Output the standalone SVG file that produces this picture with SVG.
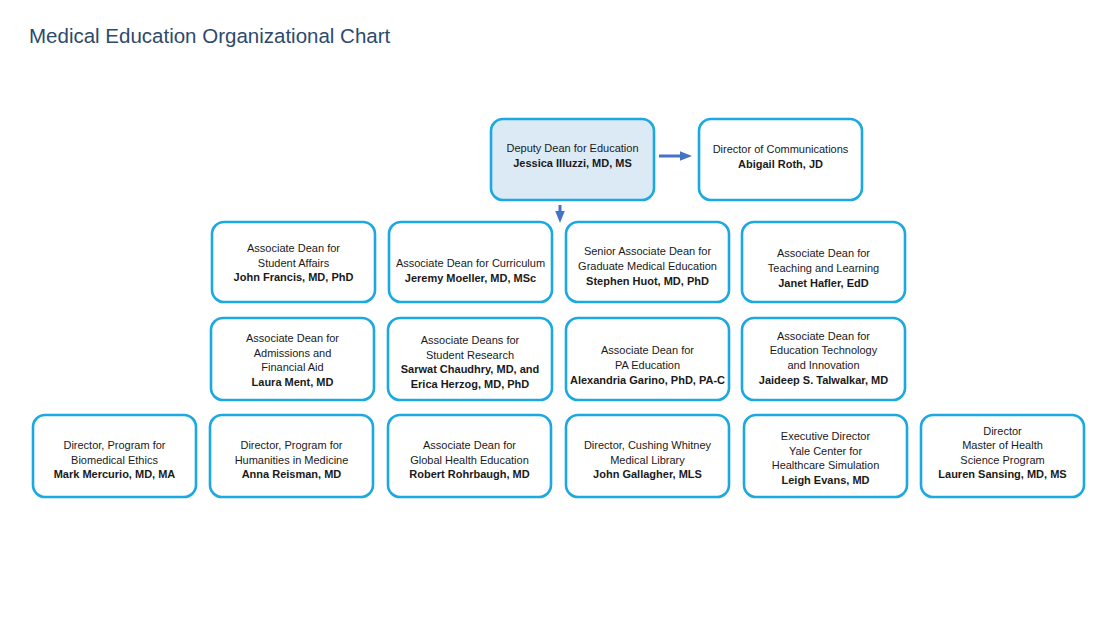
<svg xmlns="http://www.w3.org/2000/svg" width="1120" height="630" viewBox="0 0 1120 630">
<defs>
<style>
.box{fill:#ffffff;stroke:#1ca9e1;stroke-width:2.6}
.top{fill:#dceaf6}
text{font-family:"Liberation Sans",Arial,sans-serif;font-size:11px;fill:#1a1a1a;text-anchor:middle}
.b{font-weight:bold}
.title{font-size:20.5px;fill:#2d4a6d;text-anchor:start}
.conn{stroke:#4472c4;stroke-width:3;fill:none}
</style>
<marker id="ah" markerWidth="4" markerHeight="3.2" refX="2" refY="1.6" orient="auto" markerUnits="strokeWidth">
<path d="M0,0 L4,1.6 L0,3.2 Z" fill="#4472c4"/>
</marker>
</defs>
<rect width="1120" height="630" fill="#ffffff"/>
<text class="title" x="29" y="43">Medical Education Organizational Chart</text>

<g id="connectors">
<line class="conn" x1="659" y1="156" x2="686" y2="156" marker-end="url(#ah)"/>
<line class="conn" x1="560" y1="205" x2="560" y2="217" marker-end="url(#ah)"/>
</g>

<g id="deputy">
<rect class="box top" x="491" y="119" width="163" height="81" rx="12"/>
<text x="572.5" y="152">Deputy Dean for Education</text>
<text class="b" x="572.5" y="167">Jessica Illuzzi, MD, MS</text>
</g>
<g id="communications">
<rect class="box" x="699" y="119" width="163" height="81" rx="12"/>
<text x="780.5" y="153">Director of Communications</text>
<text class="b" x="780.5" y="168">Abigail Roth, JD</text>
</g>

<g id="student-affairs">
<rect class="box" x="212" y="222" width="163" height="80" rx="12"/>
<text x="293.5" y="252">Associate Dean for</text>
<text x="293.5" y="266.5">Student Affairs</text>
<text class="b" x="293.5" y="281">John Francis, MD, PhD</text>
</g>
<g id="curriculum">
<rect class="box" x="389" y="222" width="163" height="80" rx="12"/>
<text x="470.5" y="267">Associate Dean for Curriculum</text>
<text class="b" x="470.5" y="282">Jeremy Moeller, MD, MSc</text>
</g>
<g id="gme">
<rect class="box" x="566" y="222" width="163" height="80" rx="12"/>
<text x="647.5" y="255">Senior Associate Dean for</text>
<text x="647.5" y="270">Graduate Medical Education</text>
<text class="b" x="647.5" y="284.5">Stephen Huot, MD, PhD</text>
</g>
<g id="teaching">
<rect class="box" x="742" y="222" width="163" height="80" rx="12"/>
<text x="823.5" y="257">Associate Dean for</text>
<text x="823.5" y="272">Teaching and Learning</text>
<text class="b" x="823.5" y="287">Janet Hafler, EdD</text>
</g>

<g id="admissions">
<rect class="box" x="211" y="318" width="163" height="82" rx="12"/>
<text x="292.5" y="342">Associate Dean for</text>
<text x="292.5" y="356.5">Admissions and</text>
<text x="292.5" y="371">Financial Aid</text>
<text class="b" x="292.5" y="386">Laura Ment, MD</text>
</g>
<g id="research">
<rect class="box" x="388" y="318" width="164" height="82" rx="12"/>
<text x="470" y="344">Associate Deans for</text>
<text x="470" y="358.5">Student Research</text>
<text class="b" x="470" y="373">Sarwat Chaudhry, MD, and</text>
<text class="b" x="470" y="387.5">Erica Herzog, MD, PhD</text>
</g>
<g id="pa">
<rect class="box" x="566" y="318" width="163" height="82" rx="12"/>
<text x="647.5" y="354">Associate Dean for</text>
<text x="647.5" y="368.5">PA Education</text>
<text class="b" x="647.5" y="383.5">Alexandria Garino, PhD, PA-C</text>
</g>
<g id="edtech">
<rect class="box" x="742" y="318" width="163" height="82" rx="12"/>
<text x="823.5" y="340">Associate Dean for</text>
<text x="823.5" y="354">Education Technology</text>
<text x="823.5" y="369">and Innovation</text>
<text class="b" x="823.5" y="383.5">Jaideep S. Talwalkar, MD</text>
</g>

<g id="ethics">
<rect class="box" x="33" y="415" width="163" height="82" rx="12"/>
<text x="114.5" y="449">Director, Program for</text>
<text x="114.5" y="463.5">Biomedical Ethics</text>
<text class="b" x="114.5" y="478">Mark Mercurio, MD, MA</text>
</g>
<g id="humanities">
<rect class="box" x="210" y="415" width="163" height="82" rx="12"/>
<text x="291.5" y="449">Director, Program for</text>
<text x="291.5" y="463.5">Humanities in Medicine</text>
<text class="b" x="291.5" y="478">Anna Reisman, MD</text>
</g>
<g id="global-health">
<rect class="box" x="388" y="415" width="163" height="82" rx="12"/>
<text x="469.5" y="449">Associate Dean for</text>
<text x="469.5" y="464">Global Health Education</text>
<text class="b" x="469.5" y="478">Robert Rohrbaugh, MD</text>
</g>
<g id="library">
<rect class="box" x="566" y="415" width="163" height="82" rx="12"/>
<text x="647.5" y="449">Director, Cushing Whitney</text>
<text x="647.5" y="464">Medical Library</text>
<text class="b" x="647.5" y="478">John Gallagher, MLS</text>
</g>
<g id="simulation">
<rect class="box" x="744" y="415" width="163" height="82" rx="12"/>
<text x="825.5" y="439.5">Executive Director</text>
<text x="825.5" y="454.5">Yale Center for</text>
<text x="825.5" y="469">Healthcare Simulation</text>
<text class="b" x="825.5" y="484">Leigh Evans, MD</text>
</g>
<g id="mhs">
<rect class="box" x="921" y="415" width="163" height="82" rx="12"/>
<text x="1002.5" y="434.5">Director</text>
<text x="1002.5" y="449">Master of Health</text>
<text x="1002.5" y="464">Science Program</text>
<text class="b" x="1002.5" y="478">Lauren Sansing, MD, MS</text>
</g>
</svg>
